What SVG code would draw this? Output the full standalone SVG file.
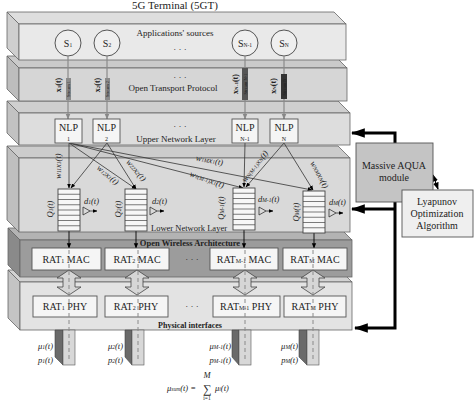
<svg xmlns="http://www.w3.org/2000/svg" width="474" height="402" viewBox="0 0 474 402" font-family="'Liberation Serif','Times New Roman',serif">
<defs>
<style>
text{font-family:"Liberation Serif","Times New Roman",serif;fill:#222}
.slab{stroke:#666;stroke-width:0.8}
.box{fill:#f5f5f5;stroke:#555;stroke-width:0.9}
.it{font-style:italic;font-size:8.5px}
.conn{stroke:#333;stroke-width:0.8;fill:none}
.gv{stroke:#8a8a8a;stroke-width:1.2;fill:none}
.dash{stroke:#8a8a8a;stroke-width:1;stroke-dasharray:4 3;fill:none}
.thick{stroke:#000;stroke-width:3;fill:none}
.q{fill:#f7f7f7;stroke:#444;stroke-width:0.9}
.ql{stroke:#444;stroke-width:0.7}
.tri{fill:none;stroke:#333;stroke-width:0.8}
.barD{fill:#6a6a6a;stroke:#444;stroke-width:0.6}
.barL{fill:#d8d8d8;stroke:#555;stroke-width:0.6}
.blk{fill:#d6d6d6;stroke:#444;stroke-width:0.8}
</style>
<marker id="ah" viewBox="0 0 10 10" refX="9" refY="5" markerWidth="6" markerHeight="6" orient="auto-start-reverse"><path d="M0,1 L10,5 L0,9 z" fill="#000"/></marker>
<marker id="ag" viewBox="0 0 10 10" refX="9" refY="5" markerWidth="5" markerHeight="5" orient="auto"><path d="M0,1 L10,5 L0,9 z" fill="#888"/></marker>
<marker id="big" viewBox="0 0 12 8" refX="11" refY="4" markerUnits="userSpaceOnUse" markerWidth="14" markerHeight="10" orient="auto"><path d="M0,0 L12,4 L0,8 z" fill="#000"/></marker>
</defs>
<rect width="474" height="402" fill="#fff"/>
<text x="175" y="9" font-size="11" text-anchor="middle">5G Terminal (5GT)</text>

<g id="layer-phy">
<polygon class="slab" fill="#d2d2d2" points="20,282 8,270 340,270 352,282"/>
<polygon class="slab" fill="#c4c4c4" points="20,282 8,270 8,318 20,330"/>
<rect class="slab" fill="#e3e3e3" x="20" y="282" width="332" height="48"/>
<text x="190" y="328" font-size="8" font-weight="bold" text-anchor="middle">Physical interfaces</text>
</g>
<g id="layer-owa">
<polygon class="slab" fill="#b3b3b3" points="20,240 8,228 340,228 352,240"/>
<polygon class="slab" fill="#8a8a8a" points="20,240 8,228 8,265 20,277"/>
<rect class="slab" fill="#9c9c9c" x="20" y="240" width="332" height="37"/>
<text x="190" y="246" font-size="8.5" font-weight="bold" text-anchor="middle">Open Wireless Architecture</text>
</g>
<g id="layer-lower">
<polygon class="slab" fill="#cccccc" points="19,158 7,146 338,146 350,158"/>
<polygon class="slab" fill="#bfbfbf" points="19,158 7,146 7,220 19,232"/>
<rect class="slab" fill="#d9d9d9" x="19" y="158" width="331" height="74"/>
<text x="189" y="231" font-size="8.5" text-anchor="middle">Lower Network Layer</text>
</g>
<g id="layer-upper">
<polygon class="slab" fill="#cfcfcf" points="19,113 7,101 338,101 350,113"/>
<polygon class="slab" fill="#c2c2c2" points="19,113 7,101 7,133 19,145"/>
<rect class="slab" fill="#dddddd" x="19" y="113" width="331" height="32"/>
<text x="180" y="129" font-size="9" text-anchor="middle">· · ·</text>
<text x="176" y="142" font-size="9" text-anchor="middle">Upper Network Layer</text>
</g>
<g id="layer-transport">
<polygon class="slab" fill="#cacaca" points="19,68 7,56 335,56 347,68"/>
<polygon class="slab" fill="#bdbdbd" points="19,68 7,56 7,89 19,101"/>
<rect class="slab" fill="#d6d6d6" x="19" y="68" width="328" height="33"/>
<text x="180" y="80" font-size="9" text-anchor="middle">· · ·</text>
<text x="173" y="91" font-size="9" text-anchor="middle">Open Transport Protocol</text>
</g>
<g id="layer-apps">
<polygon class="slab" fill="#dedede" points="19,24 7,12 334,12 346,24"/>
<polygon class="slab" fill="#cfcfcf" points="19,24 7,12 7,48 19,60"/>
<rect class="slab" fill="#e9e9e9" x="19" y="24" width="327" height="36"/>
<text x="175" y="36" font-size="9" text-anchor="middle">Applications' sources</text>
<text x="180" y="52" font-size="9" text-anchor="middle">· · ·</text>
</g>

<g id="src-1"><circle cx="68" cy="43" r="13" fill="#efefef" stroke="#555"/><text x="68" y="47" font-size="10" text-anchor="middle">S<tspan font-size="5.5">1</tspan></text></g>
<g id="src-2"><circle cx="107" cy="43" r="13" fill="#efefef" stroke="#555"/><text x="107" y="47" font-size="10" text-anchor="middle">S<tspan font-size="5.5">2</tspan></text></g>
<g id="src-n1"><circle cx="245" cy="43" r="13" fill="#efefef" stroke="#555"/><text x="245" y="47" font-size="10" text-anchor="middle">S<tspan font-size="5.5">N-1</tspan></text></g>
<g id="src-n"><circle cx="284" cy="43" r="13" fill="#efefef" stroke="#555"/><text x="284" y="47" font-size="10" text-anchor="middle">S<tspan font-size="5.5">N</tspan></text></g>

<g id="connectors">
<line class="gv" x1="68" y1="56" x2="68" y2="119" marker-end="url(#ag)"/>
<line class="gv" x1="107" y1="56" x2="107" y2="119" marker-end="url(#ag)"/>
<line class="gv" x1="245" y1="56" x2="245" y2="119" marker-end="url(#ag)"/>
<line class="gv" x1="284" y1="56" x2="284" y2="119" marker-end="url(#ag)"/>
<line class="conn" x1="69" y1="143" x2="69" y2="188" marker-end="url(#ah)"/>
<line class="conn" x1="69" y1="143" x2="136" y2="189" marker-end="url(#ah)"/>
<line class="conn" x1="69" y1="143" x2="243" y2="188" marker-end="url(#ah)"/>
<line class="conn" x1="69" y1="143" x2="312" y2="190" marker-end="url(#ah)"/>
<line class="conn" x1="107" y1="143" x2="71" y2="188" marker-end="url(#ah)"/>
<line class="conn" x1="107" y1="143" x2="136" y2="189" marker-end="url(#ah)"/>
<line class="conn" x1="245" y1="143" x2="244" y2="187" marker-end="url(#ah)"/>
<line class="conn" x1="284" y1="143" x2="246" y2="187" marker-end="url(#ah)"/>
<line class="conn" x1="284" y1="143" x2="313" y2="190" marker-end="url(#ah)"/>
<line x1="69" y1="231" x2="69" y2="248" stroke="#000" stroke-width="0.9" marker-end="url(#ah)"/>
<line x1="136" y1="231" x2="136" y2="248" stroke="#000" stroke-width="0.9" marker-end="url(#ah)"/>
<line x1="244" y1="230" x2="244" y2="248" stroke="#000" stroke-width="0.9" marker-end="url(#ah)"/>
<line x1="314" y1="233" x2="314" y2="248" stroke="#000" stroke-width="0.9" marker-end="url(#ah)"/>
<polyline class="thick" points="395,143 395,133 352,133" marker-end="url(#big)"/>
<polyline class="thick" points="395,202 395,328 355,328" marker-end="url(#big)"/>
<polyline class="thick" points="395,209 352,209" marker-end="url(#big)"/>
<line x1="433" y1="175" x2="438" y2="189" stroke="#000" stroke-width="1.2" marker-start="url(#ah)" marker-end="url(#ah)"/>
</g>

<g id="streams">
<rect x="66" y="78" width="5" height="22" fill="#8a8a8a"/>
<text transform="translate(70,89) rotate(-90)" font-size="4.5" text-anchor="middle" fill="#eee">Stream 1</text>
<text transform="translate(61,85) rotate(-90)" font-size="8" font-weight="bold" text-anchor="middle">x<tspan font-size="5">1</tspan>(t)</text>
<rect x="105" y="78" width="5" height="22" fill="#8a8a8a"/>
<text transform="translate(109,89) rotate(-90)" font-size="4.5" text-anchor="middle" fill="#eee">Stream 2</text>
<text transform="translate(100,85) rotate(-90)" font-size="8" font-weight="bold" text-anchor="middle">x<tspan font-size="5">2</tspan>(t)</text>
<rect x="242" y="68" width="6" height="32" fill="#555"/>
<text transform="translate(247,84) rotate(-90)" font-size="4.5" text-anchor="middle" fill="#eee">Stream N-1</text>
<text transform="translate(238,84) rotate(-90)" font-size="8" font-weight="bold" text-anchor="middle">x<tspan font-size="5">N-1</tspan>(t)</text>
<rect x="281" y="74" width="6" height="25" fill="#333"/>
<text transform="translate(286,87) rotate(-90)" font-size="4.5" text-anchor="middle" fill="#ddd">Stream N</text>
<text transform="translate(276,86) rotate(-90)" font-size="8" font-weight="bold" text-anchor="middle">x<tspan font-size="5">N</tspan>(t)</text>
</g>

<g id="nlp-1"><rect class="box" x="55" y="119" width="27" height="24"/><text x="68.5" y="131" font-size="10" text-anchor="middle">NLP</text><text x="68.5" y="141" font-size="6" text-anchor="middle">1</text></g>
<g id="nlp-2"><rect class="box" x="93" y="119" width="27" height="24"/><text x="106.5" y="131" font-size="10" text-anchor="middle">NLP</text><text x="106.5" y="141" font-size="6" text-anchor="middle">2</text></g>
<g id="nlp-n1"><rect class="box" x="232" y="119" width="26" height="24"/><text x="245" y="131" font-size="10" text-anchor="middle">NLP</text><text x="245" y="141" font-size="6" text-anchor="middle">N-1</text></g>
<g id="nlp-n"><rect class="box" x="270" y="119" width="28" height="24"/><text x="284" y="131" font-size="10" text-anchor="middle">NLP</text><text x="284" y="141" font-size="6" text-anchor="middle">N</text></g>

<g id="weights">
<text class="it" transform="translate(61,166) rotate(-90)" text-anchor="middle">w<tspan font-size="5.5">11</tspan>x<tspan font-size="5.5">1</tspan>(t)</text>
<text class="it" transform="translate(106,177) rotate(40)" text-anchor="middle">w<tspan font-size="5.5">12</tspan>x<tspan font-size="5.5">1</tspan>(t)</text>
<text class="it" transform="translate(134,172) rotate(50)" text-anchor="middle">w<tspan font-size="5.5">22</tspan>x<tspan font-size="5.5">2</tspan>(t)</text>
<text class="it" transform="translate(209,163) rotate(10)" text-anchor="middle">w<tspan font-size="5.5">1M</tspan>x<tspan font-size="5.5">1</tspan>(t)</text>
<text class="it" transform="translate(206,182) rotate(20)" text-anchor="middle">w<tspan font-size="5.5">1(M-1)</tspan>x<tspan font-size="5.5">1</tspan>(t)</text>
<text class="it" transform="translate(257,168) rotate(-52)" text-anchor="middle">w<tspan font-size="5.5">N(M-1)</tspan>x<tspan font-size="5.5">N</tspan>(t)</text>
<text class="it" transform="translate(317,176) rotate(62)" text-anchor="middle">w<tspan font-size="5.5">NM</tspan>x<tspan font-size="5.5">N</tspan>(t)</text>
</g>

<g id="queue-1">
<rect class="q" x="58" y="189" width="22" height="42"/>
<path class="ql" d="M58,194.25H80M58,199.5H80M58,204.75H80M58,210H80M58,215.25H80M58,220.5H80M58,225.75H80"/>
<text class="it" font-size="9" transform="translate(53,209) rotate(-90)" text-anchor="middle">Q<tspan font-size="5.5">1</tspan>(t)</text>
<polygon class="tri" points="83,207 90,211 83,215"/><line x1="90" y1="211" x2="97" y2="211" stroke="#333" stroke-width="0.8" marker-end="url(#ah)"/>
<text class="it" font-size="9" x="84" y="204">d<tspan font-size="5.5">1</tspan>(t)</text>
</g>
<g id="queue-2">
<rect class="q" x="125" y="189" width="22" height="42"/>
<path class="ql" d="M125,194.25H147M125,199.5H147M125,204.75H147M125,210H147M125,215.25H147M125,220.5H147M125,225.75H147"/>
<text class="it" font-size="9" transform="translate(121,209) rotate(-90)" text-anchor="middle">Q<tspan font-size="5.5">2</tspan>(t)</text>
<polygon class="tri" points="150,207 157,211 150,215"/><line x1="157" y1="211" x2="164" y2="211" stroke="#333" stroke-width="0.8" marker-end="url(#ah)"/>
<text class="it" font-size="9" x="152" y="204">d<tspan font-size="5.5">2</tspan>(t)</text>
</g>
<g id="queue-m1">
<rect class="q" x="233" y="188" width="22" height="42"/>
<path class="ql" d="M233,193.25H255M233,198.5H255M233,203.75H255M233,209H255M233,214.25H255M233,219.5H255M233,224.75H255"/>
<text class="it" font-size="9" transform="translate(224,208) rotate(-90)" text-anchor="middle">Q<tspan font-size="5.5">M-1</tspan>(t)</text>
<polygon class="tri" points="259,207 266,211 259,215"/><line x1="266" y1="211" x2="273" y2="211" stroke="#333" stroke-width="0.8" marker-end="url(#ah)"/>
<text class="it" font-size="9" x="258" y="202">d<tspan font-size="5.5">M-1</tspan>(t)</text>
</g>
<g id="queue-m">
<rect class="q" x="303" y="191" width="22" height="42"/>
<path class="ql" d="M303,196.25H325M303,201.5H325M303,206.75H325M303,212H325M303,217.25H325M303,222.5H325M303,227.75H325"/>
<text class="it" font-size="9" transform="translate(299,212) rotate(-90)" text-anchor="middle">Q<tspan font-size="5.5">M</tspan>(t)</text>
<polygon class="tri" points="329,209 336,213 329,217"/><line x1="336" y1="213" x2="343" y2="213" stroke="#333" stroke-width="0.8" marker-end="url(#ah)"/>
<text class="it" font-size="9" x="329" y="205">d<tspan font-size="5.5">M</tspan>(t)</text>
</g>

<g id="mac-1"><rect class="box" x="32" y="248" width="69" height="22"/><text x="66" y="263" font-size="10" text-anchor="middle">RAT<tspan font-size="6">1</tspan> MAC</text></g>
<g id="mac-2"><rect class="box" x="105" y="248" width="64" height="22"/><text x="137" y="263" font-size="10" text-anchor="middle">RAT<tspan font-size="6">2</tspan> MAC</text></g>
<text x="192" y="262" font-size="9" text-anchor="middle">· · ·</text>
<g id="mac-m1"><rect class="box" x="210" y="248" width="68" height="22"/><text x="244" y="263" font-size="10" text-anchor="middle">RAT<tspan font-size="6">M-1</tspan> MAC</text></g>
<g id="mac-m"><rect class="box" x="283" y="248" width="64" height="22"/><text x="315" y="263" font-size="10" text-anchor="middle">RAT<tspan font-size="6">M</tspan> MAC</text></g>

<g id="phy-1"><rect class="box" x="33" y="296" width="64" height="21"/><text x="65" y="310" font-size="10" text-anchor="middle">RAT<tspan font-size="6">1</tspan> PHY</text></g>
<g id="phy-2"><rect class="box" x="105" y="296" width="63" height="21"/><text x="136" y="310" font-size="10" text-anchor="middle">RAT<tspan font-size="6">2</tspan> PHY</text></g>
<text x="192" y="309" font-size="9" text-anchor="middle">· · ·</text>
<g id="phy-m1"><rect class="box" x="213" y="296" width="67" height="21"/><text x="246" y="310" font-size="10" text-anchor="middle">RAT<tspan font-size="6">M-1</tspan> PHY</text></g>
<g id="phy-m"><rect class="box" x="284" y="296" width="62" height="21"/><text x="315" y="310" font-size="10" text-anchor="middle">RAT<tspan font-size="6">M</tspan> PHY</text></g>

<g id="blockarrows">
<path class="blk" d="M69,270 L81,278 L75,278 L75,287 L81,287 L69,295 L57,287 L63,287 L63,278 L57,278 Z"/>
<path class="blk" d="M137,270 L149,278 L143,278 L143,287 L149,287 L137,295 L125,287 L131,287 L131,278 L125,278 Z"/>
<path class="blk" d="M245,270 L257,278 L251,278 L251,287 L257,287 L245,295 L233,287 L239,287 L239,278 L233,278 Z"/>
<path class="blk" d="M313,270 L325,278 L319,278 L319,287 L325,287 L313,295 L301,287 L307,287 L307,278 L301,278 Z"/>
</g>

<g id="bars">
<polygon class="barD" points="55,330 63,330 63,365 55,357"/><rect class="barL" x="63" y="330" width="12" height="35"/>
<polygon class="barD" points="125,330 132,330 132,365 125,357"/><rect class="barL" x="132" y="330" width="12" height="35"/>
<polygon class="barD" points="232,330 239,330 239,365 232,357"/><rect class="barL" x="239" y="330" width="12" height="35"/>
<polygon class="barD" points="299,330 307,330 307,365 299,357"/><rect class="barL" x="307" y="330" width="12" height="35"/>
</g>
<g id="dashes">
<line class="dash" x1="69" y1="250" x2="69" y2="362"/>
<line class="dash" x1="138" y1="250" x2="138" y2="362"/>
<line class="dash" x1="245" y1="250" x2="245" y2="362"/>
<line class="dash" x1="313" y1="250" x2="313" y2="362"/>
</g>

<g id="rates">
<text class="it" font-size="9" x="53" y="349" text-anchor="end">μ<tspan font-size="5.5">1</tspan>(t)</text>
<text class="it" font-size="9" x="53" y="363" text-anchor="end">p<tspan font-size="5.5">1</tspan>(t)</text>
<text class="it" font-size="9" x="123" y="349" text-anchor="end">μ<tspan font-size="5.5">2</tspan>(t)</text>
<text class="it" font-size="9" x="123" y="363" text-anchor="end">p<tspan font-size="5.5">2</tspan>(t)</text>
<text class="it" font-size="9" x="231" y="349" text-anchor="end">μ<tspan font-size="5.5">M-1</tspan>(t)</text>
<text class="it" font-size="9" x="231" y="363" text-anchor="end">p<tspan font-size="5.5">M-1</tspan>(t)</text>
<text class="it" font-size="9" x="298" y="349" text-anchor="end">μ<tspan font-size="5.5">M</tspan>(t)</text>
<text class="it" font-size="9" x="298" y="363" text-anchor="end">p<tspan font-size="5.5">M</tspan>(t)</text>
</g>

<g id="formula">
<text class="it" font-size="9" x="167" y="391">μ<tspan font-size="5.5">sum</tspan>(t) =</text>
<text font-size="12" x="207" y="393" text-anchor="middle">∑</text>
<text class="it" font-size="5.5" x="207" y="378" text-anchor="middle">M</text>
<text font-size="5.5" x="207" y="400" text-anchor="middle">i=1</text>
<text class="it" font-size="9" x="215" y="391">μ<tspan font-size="5.5">i</tspan>(t)</text>
</g>

<g id="aqua"><rect x="356" y="143" width="77" height="59" fill="#c4c4c4" stroke="#555" stroke-width="0.9"/><text x="394" y="169" font-size="10" text-anchor="middle">Massive AQUA</text><text x="394" y="181" font-size="10" text-anchor="middle">module</text></g>
<g id="lyapunov"><rect x="402" y="190" width="71" height="47" fill="#efefef" stroke="#555" stroke-width="0.9"/><text x="437" y="205" font-size="10" text-anchor="middle">Lyapunov</text><text x="437" y="217" font-size="10" text-anchor="middle">Optimization</text><text x="437" y="229" font-size="10" text-anchor="middle">Algorithm</text></g>
</svg>
